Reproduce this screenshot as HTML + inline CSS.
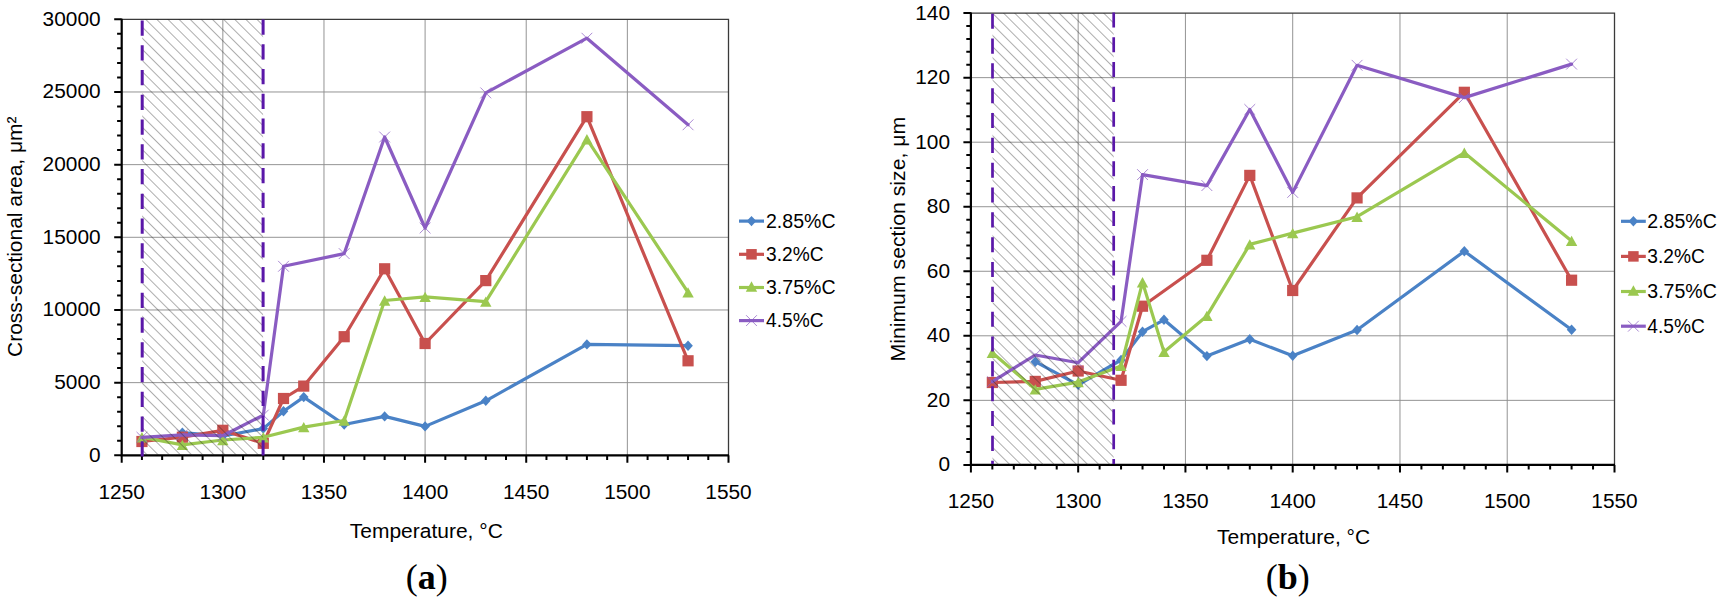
<!DOCTYPE html>
<html lang="en">
<head>
<meta charset="utf-8">
<title>Charts</title>
<style>
html,body{margin:0;padding:0;background:#fff;}
body{width:1720px;height:599px;overflow:hidden;font-family:"Liberation Sans",sans-serif;}
svg{display:block;}
</style>
</head>
<body>
<svg width="1720" height="599" viewBox="0 0 1720 599" font-family="Liberation Sans, sans-serif" fill="#000">
<defs>
<pattern id="hatchA" width="7.87" height="7.87" patternUnits="userSpaceOnUse" patternTransform="translate(127 0) rotate(45)">
<line x1="0" y1="0" x2="7.87" y2="0" stroke="#1e1e1e" stroke-width="0.72"/>
</pattern>
<pattern id="hatchB" width="7.87" height="7.87" patternUnits="userSpaceOnUse" patternTransform="translate(980 0) rotate(45)">
<line x1="0" y1="0" x2="7.87" y2="0" stroke="#1e1e1e" stroke-width="0.72"/>
</pattern>
</defs>
<rect width="1720" height="599" fill="#fff"/>
<g id="chart-a">
<line x1="121.7" x2="728.5" y1="382.63" y2="382.63" stroke="#8e8e8e" stroke-width="0.95"/>
<line x1="121.7" x2="728.5" y1="309.97" y2="309.97" stroke="#8e8e8e" stroke-width="0.95"/>
<line x1="121.7" x2="728.5" y1="237.3" y2="237.3" stroke="#8e8e8e" stroke-width="0.95"/>
<line x1="121.7" x2="728.5" y1="164.63" y2="164.63" stroke="#8e8e8e" stroke-width="0.95"/>
<line x1="121.7" x2="728.5" y1="91.97" y2="91.97" stroke="#8e8e8e" stroke-width="0.95"/>
<line x1="222.83" x2="222.83" y1="19.3" y2="455.3" stroke="#8e8e8e" stroke-width="0.95"/>
<line x1="323.97" x2="323.97" y1="19.3" y2="455.3" stroke="#8e8e8e" stroke-width="0.95"/>
<line x1="425.1" x2="425.1" y1="19.3" y2="455.3" stroke="#8e8e8e" stroke-width="0.95"/>
<line x1="526.23" x2="526.23" y1="19.3" y2="455.3" stroke="#8e8e8e" stroke-width="0.95"/>
<line x1="627.37" x2="627.37" y1="19.3" y2="455.3" stroke="#8e8e8e" stroke-width="0.95"/>
<path d="M121.7 19.3H728.5V455.3" fill="none" stroke="#3a3a3a" stroke-width="1.3"/>
<path d="M121.7 18.8V455.3H729" fill="none" stroke="#000" stroke-width="2.2"/>
<path d="M114.2 455.3H121.7M117.1 440.77H121.7M117.1 426.23H121.7M117.1 411.7H121.7M117.1 397.17H121.7M114.2 382.63H121.7M117.1 368.1H121.7M117.1 353.57H121.7M117.1 339.03H121.7M117.1 324.5H121.7M114.2 309.97H121.7M117.1 295.43H121.7M117.1 280.9H121.7M117.1 266.37H121.7M117.1 251.83H121.7M114.2 237.3H121.7M117.1 222.77H121.7M117.1 208.23H121.7M117.1 193.7H121.7M117.1 179.17H121.7M114.2 164.63H121.7M117.1 150.1H121.7M117.1 135.57H121.7M117.1 121.03H121.7M117.1 106.5H121.7M114.2 91.97H121.7M117.1 77.43H121.7M117.1 62.9H121.7M117.1 48.37H121.7M117.1 33.83H121.7M114.2 19.3H121.7M121.7 455.3V462.8M141.93 455.3V459.9M162.15 455.3V459.9M182.38 455.3V459.9M202.61 455.3V459.9M222.83 455.3V462.8M243.06 455.3V459.9M263.29 455.3V459.9M283.51 455.3V459.9M303.74 455.3V459.9M323.97 455.3V462.8M344.19 455.3V459.9M364.42 455.3V459.9M384.65 455.3V459.9M404.87 455.3V459.9M425.1 455.3V462.8M445.33 455.3V459.9M465.55 455.3V459.9M485.78 455.3V459.9M506.01 455.3V459.9M526.23 455.3V462.8M546.46 455.3V459.9M566.69 455.3V459.9M586.91 455.3V459.9M607.14 455.3V459.9M627.37 455.3V462.8M647.59 455.3V459.9M667.82 455.3V459.9M688.05 455.3V459.9M708.27 455.3V459.9M728.5 455.3V462.8" stroke="#000" stroke-width="2" fill="none"/>
<polyline points="182.38,432.6 222.83,436 263.29,428.6 283.51,411.3 303.74,397.1 344.19,424.5 384.65,416.4 425.1,426.4 485.78,400.8 586.91,344.4 688.05,345.7" fill="none" stroke="#4A82C6" stroke-width="3.2" stroke-linejoin="round" stroke-linecap="round"/>
<path d="M182.38 427.4L187.18 432.6L182.38 437.8L177.58 432.6Z" fill="#4A82C6"/>
<path d="M222.83 430.8L227.63 436L222.83 441.2L218.03 436Z" fill="#4A82C6"/>
<path d="M263.29 423.4L268.09 428.6L263.29 433.8L258.49 428.6Z" fill="#4A82C6"/>
<path d="M283.51 406.1L288.31 411.3L283.51 416.5L278.71 411.3Z" fill="#4A82C6"/>
<path d="M303.74 391.9L308.54 397.1L303.74 402.3L298.94 397.1Z" fill="#4A82C6"/>
<path d="M344.19 419.3L348.99 424.5L344.19 429.7L339.39 424.5Z" fill="#4A82C6"/>
<path d="M384.65 411.2L389.45 416.4L384.65 421.6L379.85 416.4Z" fill="#4A82C6"/>
<path d="M425.1 421.2L429.9 426.4L425.1 431.6L420.3 426.4Z" fill="#4A82C6"/>
<path d="M485.78 395.6L490.58 400.8L485.78 406L480.98 400.8Z" fill="#4A82C6"/>
<path d="M586.91 339.2L591.71 344.4L586.91 349.6L582.11 344.4Z" fill="#4A82C6"/>
<path d="M688.05 340.5L692.85 345.7L688.05 350.9L683.25 345.7Z" fill="#4A82C6"/>
<polyline points="141.93,441.5 182.38,437.2 222.83,430.3 263.29,443.3 283.51,398.5 303.74,386.1 344.19,336.7 384.65,268.8 425.1,343.5 485.78,280.6 586.91,116.7 688.05,360.8" fill="none" stroke="#C8504E" stroke-width="3.2" stroke-linejoin="round" stroke-linecap="round"/>
<rect x="136.33" y="435.9" width="11.2" height="11.2" fill="#C8504E"/>
<rect x="176.78" y="431.6" width="11.2" height="11.2" fill="#C8504E"/>
<rect x="217.23" y="424.7" width="11.2" height="11.2" fill="#C8504E"/>
<rect x="257.69" y="437.7" width="11.2" height="11.2" fill="#C8504E"/>
<rect x="277.91" y="392.9" width="11.2" height="11.2" fill="#C8504E"/>
<rect x="298.14" y="380.5" width="11.2" height="11.2" fill="#C8504E"/>
<rect x="338.59" y="331.1" width="11.2" height="11.2" fill="#C8504E"/>
<rect x="379.05" y="263.2" width="11.2" height="11.2" fill="#C8504E"/>
<rect x="419.5" y="337.9" width="11.2" height="11.2" fill="#C8504E"/>
<rect x="480.18" y="275" width="11.2" height="11.2" fill="#C8504E"/>
<rect x="581.31" y="111.1" width="11.2" height="11.2" fill="#C8504E"/>
<rect x="682.45" y="355.2" width="11.2" height="11.2" fill="#C8504E"/>
<polyline points="141.93,437.2 182.38,444.9 222.83,440 263.29,437.3 303.74,427.1 344.19,420.5 384.65,300.5 425.1,296.9 485.78,301.6 586.91,139.2 688.05,292.4" fill="none" stroke="#9BC850" stroke-width="3.2" stroke-linejoin="round" stroke-linecap="round"/>
<path d="M141.93 432L147.63 442.4L136.23 442.4Z" fill="#9BC850"/>
<path d="M182.38 439.7L188.08 450.1L176.68 450.1Z" fill="#9BC850"/>
<path d="M222.83 434.8L228.53 445.2L217.13 445.2Z" fill="#9BC850"/>
<path d="M263.29 432.1L268.99 442.5L257.59 442.5Z" fill="#9BC850"/>
<path d="M303.74 421.9L309.44 432.3L298.04 432.3Z" fill="#9BC850"/>
<path d="M344.19 415.3L349.89 425.7L338.49 425.7Z" fill="#9BC850"/>
<path d="M384.65 295.3L390.35 305.7L378.95 305.7Z" fill="#9BC850"/>
<path d="M425.1 291.7L430.8 302.1L419.4 302.1Z" fill="#9BC850"/>
<path d="M485.78 296.4L491.48 306.8L480.08 306.8Z" fill="#9BC850"/>
<path d="M586.91 134L592.61 144.4L581.21 144.4Z" fill="#9BC850"/>
<path d="M688.05 287.2L693.75 297.6L682.35 297.6Z" fill="#9BC850"/>
<polyline points="141.93,437.3 182.38,434.9 222.83,435.7 263.29,415.1 283.51,266.3 344.19,253.6 384.65,137 425.1,228 485.78,92.9 586.91,38.2 688.05,124.8" fill="none" stroke="#8A5CC2" stroke-width="3.2" stroke-linejoin="round" stroke-linecap="round"/>
<path d="M136.53 431.9L147.33 442.7M136.53 442.7L147.33 431.9" stroke="#8A5CC2" stroke-width="0.9" stroke-opacity="0.8" fill="none"/>
<path d="M176.98 429.5L187.78 440.3M176.98 440.3L187.78 429.5" stroke="#8A5CC2" stroke-width="0.9" stroke-opacity="0.8" fill="none"/>
<path d="M217.43 430.3L228.23 441.1M217.43 441.1L228.23 430.3" stroke="#8A5CC2" stroke-width="0.9" stroke-opacity="0.8" fill="none"/>
<path d="M257.89 409.7L268.69 420.5M257.89 420.5L268.69 409.7" stroke="#8A5CC2" stroke-width="0.9" stroke-opacity="0.8" fill="none"/>
<path d="M278.11 260.9L288.91 271.7M278.11 271.7L288.91 260.9" stroke="#8A5CC2" stroke-width="0.9" stroke-opacity="0.8" fill="none"/>
<path d="M338.79 248.2L349.59 259M338.79 259L349.59 248.2" stroke="#8A5CC2" stroke-width="0.9" stroke-opacity="0.8" fill="none"/>
<path d="M379.25 131.6L390.05 142.4M379.25 142.4L390.05 131.6" stroke="#8A5CC2" stroke-width="0.9" stroke-opacity="0.8" fill="none"/>
<path d="M419.7 222.6L430.5 233.4M419.7 233.4L430.5 222.6" stroke="#8A5CC2" stroke-width="0.9" stroke-opacity="0.8" fill="none"/>
<path d="M480.38 87.5L491.18 98.3M480.38 98.3L491.18 87.5" stroke="#8A5CC2" stroke-width="0.9" stroke-opacity="0.8" fill="none"/>
<path d="M581.51 32.8L592.31 43.6M581.51 43.6L592.31 32.8" stroke="#8A5CC2" stroke-width="0.9" stroke-opacity="0.8" fill="none"/>
<path d="M682.65 119.4L693.45 130.2M682.65 130.2L693.45 119.4" stroke="#8A5CC2" stroke-width="0.9" stroke-opacity="0.8" fill="none"/>
<rect x="142.2" y="19.3" width="120.9" height="436" fill="url(#hatchA)"/>
<line x1="142.2" x2="142.2" y1="20.4" y2="457" stroke="#5A17A8" stroke-width="3" stroke-dasharray="15.3 9.45"/>
<line x1="263.1" x2="263.1" y1="19.5" y2="457" stroke="#5A17A8" stroke-width="3" stroke-dasharray="15.3 9.45"/>
<text x="100.6" y="461.8" font-size="20.5" text-anchor="end" textLength="11.6" lengthAdjust="spacingAndGlyphs">0</text>
<text x="100.6" y="389.13" font-size="20.5" text-anchor="end" textLength="46.4" lengthAdjust="spacingAndGlyphs">5000</text>
<text x="100.6" y="316.47" font-size="20.5" text-anchor="end" textLength="58" lengthAdjust="spacingAndGlyphs">10000</text>
<text x="100.6" y="243.8" font-size="20.5" text-anchor="end" textLength="58" lengthAdjust="spacingAndGlyphs">15000</text>
<text x="100.6" y="171.13" font-size="20.5" text-anchor="end" textLength="58" lengthAdjust="spacingAndGlyphs">20000</text>
<text x="100.6" y="98.47" font-size="20.5" text-anchor="end" textLength="58" lengthAdjust="spacingAndGlyphs">25000</text>
<text x="100.6" y="25.8" font-size="20.5" text-anchor="end" textLength="58" lengthAdjust="spacingAndGlyphs">30000</text>
<text x="121.7" y="498.7" font-size="20.5" text-anchor="middle" textLength="46.4" lengthAdjust="spacingAndGlyphs">1250</text>
<text x="222.83" y="498.7" font-size="20.5" text-anchor="middle" textLength="46.4" lengthAdjust="spacingAndGlyphs">1300</text>
<text x="323.97" y="498.7" font-size="20.5" text-anchor="middle" textLength="46.4" lengthAdjust="spacingAndGlyphs">1350</text>
<text x="425.1" y="498.7" font-size="20.5" text-anchor="middle" textLength="46.4" lengthAdjust="spacingAndGlyphs">1400</text>
<text x="526.23" y="498.7" font-size="20.5" text-anchor="middle" textLength="46.4" lengthAdjust="spacingAndGlyphs">1450</text>
<text x="627.37" y="498.7" font-size="20.5" text-anchor="middle" textLength="46.4" lengthAdjust="spacingAndGlyphs">1500</text>
<text x="728.5" y="498.7" font-size="20.5" text-anchor="middle" textLength="46.4" lengthAdjust="spacingAndGlyphs">1550</text>
<text x="426.3" y="537.8" font-size="20.5" text-anchor="middle" textLength="153" lengthAdjust="spacingAndGlyphs">Temperature, °C</text>
<text transform="translate(22.3 357) rotate(-90)" font-size="20.5" textLength="240.5" lengthAdjust="spacingAndGlyphs">Cross-sectional area, μm²</text>
<text x="426.8" y="588.9" font-family="Liberation Serif, serif" font-size="36" text-anchor="middle">(<tspan font-weight="bold">a</tspan>)</text>
<line x1="739" x2="764" y1="221.1" y2="221.1" stroke="#4A82C6" stroke-width="3.2"/>
<path d="M751.5 215.9L756.3 221.1L751.5 226.3L746.7 221.1Z" fill="#4A82C6"/>
<text x="766" y="227.6" font-size="20.5" text-anchor="start" textLength="69.5" lengthAdjust="spacingAndGlyphs">2.85%C</text>
<line x1="739" x2="764" y1="254.3" y2="254.3" stroke="#C8504E" stroke-width="3.2"/>
<rect x="746.25" y="249.05" width="10.5" height="10.5" fill="#C8504E"/>
<text x="766" y="260.8" font-size="20.5" text-anchor="start" textLength="57.5" lengthAdjust="spacingAndGlyphs">3.2%C</text>
<line x1="739" x2="764" y1="287.5" y2="287.5" stroke="#9BC850" stroke-width="3.2"/>
<path d="M751.5 281.3L757.2 291.7L745.8 291.7Z" fill="#9BC850"/>
<text x="766" y="294" font-size="20.5" text-anchor="start" textLength="69.5" lengthAdjust="spacingAndGlyphs">3.75%C</text>
<line x1="739" x2="764" y1="320.6" y2="320.6" stroke="#8A5CC2" stroke-width="3.2"/>
<path d="M746.1 315.2L756.9 326M746.1 326L756.9 315.2" stroke="#8A5CC2" stroke-width="0.9" stroke-opacity="0.8" fill="none"/>
<text x="766" y="327.1" font-size="20.5" text-anchor="start" textLength="57.5" lengthAdjust="spacingAndGlyphs">4.5%C</text>
</g>
<g id="chart-b">
<line x1="970.9" x2="1614.5" y1="400.36" y2="400.36" stroke="#8e8e8e" stroke-width="0.95"/>
<line x1="970.9" x2="1614.5" y1="335.81" y2="335.81" stroke="#8e8e8e" stroke-width="0.95"/>
<line x1="970.9" x2="1614.5" y1="271.27" y2="271.27" stroke="#8e8e8e" stroke-width="0.95"/>
<line x1="970.9" x2="1614.5" y1="206.73" y2="206.73" stroke="#8e8e8e" stroke-width="0.95"/>
<line x1="970.9" x2="1614.5" y1="142.19" y2="142.19" stroke="#8e8e8e" stroke-width="0.95"/>
<line x1="970.9" x2="1614.5" y1="77.64" y2="77.64" stroke="#8e8e8e" stroke-width="0.95"/>
<line x1="1078.17" x2="1078.17" y1="13.1" y2="464.9" stroke="#8e8e8e" stroke-width="0.95"/>
<line x1="1185.43" x2="1185.43" y1="13.1" y2="464.9" stroke="#8e8e8e" stroke-width="0.95"/>
<line x1="1292.7" x2="1292.7" y1="13.1" y2="464.9" stroke="#8e8e8e" stroke-width="0.95"/>
<line x1="1399.97" x2="1399.97" y1="13.1" y2="464.9" stroke="#8e8e8e" stroke-width="0.95"/>
<line x1="1507.23" x2="1507.23" y1="13.1" y2="464.9" stroke="#8e8e8e" stroke-width="0.95"/>
<path d="M970.9 13.1H1614.5V464.9" fill="none" stroke="#3a3a3a" stroke-width="1.3"/>
<path d="M970.9 12.6V464.9H1615" fill="none" stroke="#000" stroke-width="2.2"/>
<path d="M963.4 464.9H970.9M966.3 451.99H970.9M966.3 439.08H970.9M966.3 426.17H970.9M966.3 413.27H970.9M963.4 400.36H970.9M966.3 387.45H970.9M966.3 374.54H970.9M966.3 361.63H970.9M966.3 348.72H970.9M963.4 335.81H970.9M966.3 322.91H970.9M966.3 310H970.9M966.3 297.09H970.9M966.3 284.18H970.9M963.4 271.27H970.9M966.3 258.36H970.9M966.3 245.45H970.9M966.3 232.55H970.9M966.3 219.64H970.9M963.4 206.73H970.9M966.3 193.82H970.9M966.3 180.91H970.9M966.3 168H970.9M966.3 155.09H970.9M963.4 142.19H970.9M966.3 129.28H970.9M966.3 116.37H970.9M966.3 103.46H970.9M966.3 90.55H970.9M963.4 77.64H970.9M966.3 64.73H970.9M966.3 51.83H970.9M966.3 38.92H970.9M966.3 26.01H970.9M963.4 13.1H970.9M970.9 464.9V472.4M992.35 464.9V469.5M1013.81 464.9V469.5M1035.26 464.9V469.5M1056.71 464.9V469.5M1078.17 464.9V472.4M1099.62 464.9V469.5M1121.07 464.9V469.5M1142.53 464.9V469.5M1163.98 464.9V469.5M1185.43 464.9V472.4M1206.89 464.9V469.5M1228.34 464.9V469.5M1249.79 464.9V469.5M1271.25 464.9V469.5M1292.7 464.9V472.4M1314.15 464.9V469.5M1335.61 464.9V469.5M1357.06 464.9V469.5M1378.51 464.9V469.5M1399.97 464.9V472.4M1421.42 464.9V469.5M1442.87 464.9V469.5M1464.33 464.9V469.5M1485.78 464.9V469.5M1507.23 464.9V472.4M1528.69 464.9V469.5M1550.14 464.9V469.5M1571.59 464.9V469.5M1593.05 464.9V469.5M1614.5 464.9V472.4" stroke="#000" stroke-width="2" fill="none"/>
<polyline points="1035.26,361.7 1078.17,384.8 1121.07,360 1142.53,331.7 1163.98,319.8 1206.89,356.1 1249.79,339.3 1292.7,355.8 1357.06,330 1464.33,251.2 1571.59,329.8" fill="none" stroke="#4A82C6" stroke-width="3.2" stroke-linejoin="round" stroke-linecap="round"/>
<path d="M1035.26 356.5L1040.06 361.7L1035.26 366.9L1030.46 361.7Z" fill="#4A82C6"/>
<path d="M1078.17 379.6L1082.97 384.8L1078.17 390L1073.37 384.8Z" fill="#4A82C6"/>
<path d="M1121.07 354.8L1125.87 360L1121.07 365.2L1116.27 360Z" fill="#4A82C6"/>
<path d="M1142.53 326.5L1147.33 331.7L1142.53 336.9L1137.73 331.7Z" fill="#4A82C6"/>
<path d="M1163.98 314.6L1168.78 319.8L1163.98 325L1159.18 319.8Z" fill="#4A82C6"/>
<path d="M1206.89 350.9L1211.69 356.1L1206.89 361.3L1202.09 356.1Z" fill="#4A82C6"/>
<path d="M1249.79 334.1L1254.59 339.3L1249.79 344.5L1244.99 339.3Z" fill="#4A82C6"/>
<path d="M1292.7 350.6L1297.5 355.8L1292.7 361L1287.9 355.8Z" fill="#4A82C6"/>
<path d="M1357.06 324.8L1361.86 330L1357.06 335.2L1352.26 330Z" fill="#4A82C6"/>
<path d="M1464.33 246L1469.13 251.2L1464.33 256.4L1459.53 251.2Z" fill="#4A82C6"/>
<path d="M1571.59 324.6L1576.39 329.8L1571.59 335L1566.79 329.8Z" fill="#4A82C6"/>
<polyline points="992.35,382.5 1035.26,381.4 1078.17,371 1121.07,380.3 1142.53,306.2 1206.89,260.3 1249.79,175.4 1292.7,290.5 1357.06,197.9 1464.33,92.3 1571.59,280.2" fill="none" stroke="#C8504E" stroke-width="3.2" stroke-linejoin="round" stroke-linecap="round"/>
<rect x="986.75" y="376.9" width="11.2" height="11.2" fill="#C8504E"/>
<rect x="1029.66" y="375.8" width="11.2" height="11.2" fill="#C8504E"/>
<rect x="1072.57" y="365.4" width="11.2" height="11.2" fill="#C8504E"/>
<rect x="1115.47" y="374.7" width="11.2" height="11.2" fill="#C8504E"/>
<rect x="1136.93" y="300.6" width="11.2" height="11.2" fill="#C8504E"/>
<rect x="1201.29" y="254.7" width="11.2" height="11.2" fill="#C8504E"/>
<rect x="1244.19" y="169.8" width="11.2" height="11.2" fill="#C8504E"/>
<rect x="1287.1" y="284.9" width="11.2" height="11.2" fill="#C8504E"/>
<rect x="1351.46" y="192.3" width="11.2" height="11.2" fill="#C8504E"/>
<rect x="1458.73" y="86.7" width="11.2" height="11.2" fill="#C8504E"/>
<rect x="1565.99" y="274.6" width="11.2" height="11.2" fill="#C8504E"/>
<polyline points="992.35,352.7 1035.26,389.4 1078.17,382.1 1121.07,365.9 1142.53,282.3 1163.98,351.9 1206.89,315.9 1249.79,244.4 1292.7,233.1 1357.06,216.7 1464.33,152.8 1571.59,240.9" fill="none" stroke="#9BC850" stroke-width="3.2" stroke-linejoin="round" stroke-linecap="round"/>
<path d="M992.35 347.5L998.05 357.9L986.65 357.9Z" fill="#9BC850"/>
<path d="M1035.26 384.2L1040.96 394.6L1029.56 394.6Z" fill="#9BC850"/>
<path d="M1078.17 376.9L1083.87 387.3L1072.47 387.3Z" fill="#9BC850"/>
<path d="M1121.07 360.7L1126.77 371.1L1115.37 371.1Z" fill="#9BC850"/>
<path d="M1142.53 277.1L1148.23 287.5L1136.83 287.5Z" fill="#9BC850"/>
<path d="M1163.98 346.7L1169.68 357.1L1158.28 357.1Z" fill="#9BC850"/>
<path d="M1206.89 310.7L1212.59 321.1L1201.19 321.1Z" fill="#9BC850"/>
<path d="M1249.79 239.2L1255.49 249.6L1244.09 249.6Z" fill="#9BC850"/>
<path d="M1292.7 227.9L1298.4 238.3L1287 238.3Z" fill="#9BC850"/>
<path d="M1357.06 211.5L1362.76 221.9L1351.36 221.9Z" fill="#9BC850"/>
<path d="M1464.33 147.6L1470.03 158L1458.63 158Z" fill="#9BC850"/>
<path d="M1571.59 235.7L1577.29 246.1L1565.89 246.1Z" fill="#9BC850"/>
<polyline points="992.35,381.7 1035.26,355 1078.17,362.7 1121.07,321.4 1142.53,174.6 1206.89,185.6 1249.79,109.5 1292.7,192.4 1357.06,65.3 1464.33,97.6 1571.59,64.1" fill="none" stroke="#8A5CC2" stroke-width="3.2" stroke-linejoin="round" stroke-linecap="round"/>
<path d="M986.95 376.3L997.75 387.1M986.95 387.1L997.75 376.3" stroke="#8A5CC2" stroke-width="0.9" stroke-opacity="0.8" fill="none"/>
<path d="M1029.86 349.6L1040.66 360.4M1029.86 360.4L1040.66 349.6" stroke="#8A5CC2" stroke-width="0.9" stroke-opacity="0.8" fill="none"/>
<path d="M1072.77 357.3L1083.57 368.1M1072.77 368.1L1083.57 357.3" stroke="#8A5CC2" stroke-width="0.9" stroke-opacity="0.8" fill="none"/>
<path d="M1115.67 316L1126.47 326.8M1115.67 326.8L1126.47 316" stroke="#8A5CC2" stroke-width="0.9" stroke-opacity="0.8" fill="none"/>
<path d="M1137.13 169.2L1147.93 180M1137.13 180L1147.93 169.2" stroke="#8A5CC2" stroke-width="0.9" stroke-opacity="0.8" fill="none"/>
<path d="M1201.49 180.2L1212.29 191M1201.49 191L1212.29 180.2" stroke="#8A5CC2" stroke-width="0.9" stroke-opacity="0.8" fill="none"/>
<path d="M1244.39 104.1L1255.19 114.9M1244.39 114.9L1255.19 104.1" stroke="#8A5CC2" stroke-width="0.9" stroke-opacity="0.8" fill="none"/>
<path d="M1287.3 187L1298.1 197.8M1287.3 197.8L1298.1 187" stroke="#8A5CC2" stroke-width="0.9" stroke-opacity="0.8" fill="none"/>
<path d="M1351.66 59.9L1362.46 70.7M1351.66 70.7L1362.46 59.9" stroke="#8A5CC2" stroke-width="0.9" stroke-opacity="0.8" fill="none"/>
<path d="M1458.93 92.2L1469.73 103M1458.93 103L1469.73 92.2" stroke="#8A5CC2" stroke-width="0.9" stroke-opacity="0.8" fill="none"/>
<path d="M1566.19 58.7L1576.99 69.5M1566.19 69.5L1576.99 58.7" stroke="#8A5CC2" stroke-width="0.9" stroke-opacity="0.8" fill="none"/>
<rect x="992.5" y="13.1" width="121.2" height="451.8" fill="url(#hatchB)"/>
<line x1="992.5" x2="992.5" y1="13.7" y2="464" stroke="#5A17A8" stroke-width="2.7" stroke-dasharray="15.1 9.73"/>
<line x1="1113.7" x2="1113.7" y1="12.4" y2="464" stroke="#5A17A8" stroke-width="2.7" stroke-dasharray="15.1 9.71"/>
<text x="950" y="471.4" font-size="20.5" text-anchor="end" textLength="11.6" lengthAdjust="spacingAndGlyphs">0</text>
<text x="950" y="406.86" font-size="20.5" text-anchor="end" textLength="23.2" lengthAdjust="spacingAndGlyphs">20</text>
<text x="950" y="342.31" font-size="20.5" text-anchor="end" textLength="23.2" lengthAdjust="spacingAndGlyphs">40</text>
<text x="950" y="277.77" font-size="20.5" text-anchor="end" textLength="23.2" lengthAdjust="spacingAndGlyphs">60</text>
<text x="950" y="213.23" font-size="20.5" text-anchor="end" textLength="23.2" lengthAdjust="spacingAndGlyphs">80</text>
<text x="950" y="148.69" font-size="20.5" text-anchor="end" textLength="34.8" lengthAdjust="spacingAndGlyphs">100</text>
<text x="950" y="84.14" font-size="20.5" text-anchor="end" textLength="34.8" lengthAdjust="spacingAndGlyphs">120</text>
<text x="950" y="19.6" font-size="20.5" text-anchor="end" textLength="34.8" lengthAdjust="spacingAndGlyphs">140</text>
<text x="970.9" y="508.2" font-size="20.5" text-anchor="middle" textLength="46.4" lengthAdjust="spacingAndGlyphs">1250</text>
<text x="1078.17" y="508.2" font-size="20.5" text-anchor="middle" textLength="46.4" lengthAdjust="spacingAndGlyphs">1300</text>
<text x="1185.43" y="508.2" font-size="20.5" text-anchor="middle" textLength="46.4" lengthAdjust="spacingAndGlyphs">1350</text>
<text x="1292.7" y="508.2" font-size="20.5" text-anchor="middle" textLength="46.4" lengthAdjust="spacingAndGlyphs">1400</text>
<text x="1399.97" y="508.2" font-size="20.5" text-anchor="middle" textLength="46.4" lengthAdjust="spacingAndGlyphs">1450</text>
<text x="1507.23" y="508.2" font-size="20.5" text-anchor="middle" textLength="46.4" lengthAdjust="spacingAndGlyphs">1500</text>
<text x="1614.5" y="508.2" font-size="20.5" text-anchor="middle" textLength="46.4" lengthAdjust="spacingAndGlyphs">1550</text>
<text x="1293.6" y="544.3" font-size="20.5" text-anchor="middle" textLength="153" lengthAdjust="spacingAndGlyphs">Temperature, °C</text>
<text transform="translate(905 361.5) rotate(-90)" font-size="20.5" textLength="244.7" lengthAdjust="spacingAndGlyphs">Minimum section size, μm</text>
<text x="1287.8" y="589.3" font-family="Liberation Serif, serif" font-size="36" text-anchor="middle">(<tspan font-weight="bold">b</tspan>)</text>
<line x1="1621" x2="1645.8" y1="221.3" y2="221.3" stroke="#4A82C6" stroke-width="3.2"/>
<path d="M1633.4 216.1L1638.2 221.3L1633.4 226.5L1628.6 221.3Z" fill="#4A82C6"/>
<text x="1647.3" y="227.8" font-size="20.5" text-anchor="start" textLength="69.5" lengthAdjust="spacingAndGlyphs">2.85%C</text>
<line x1="1621" x2="1645.8" y1="256.4" y2="256.4" stroke="#C8504E" stroke-width="3.2"/>
<rect x="1628.15" y="251.15" width="10.5" height="10.5" fill="#C8504E"/>
<text x="1647.3" y="262.9" font-size="20.5" text-anchor="start" textLength="57.5" lengthAdjust="spacingAndGlyphs">3.2%C</text>
<line x1="1621" x2="1645.8" y1="291.5" y2="291.5" stroke="#9BC850" stroke-width="3.2"/>
<path d="M1633.4 285.3L1639.1 295.7L1627.7 295.7Z" fill="#9BC850"/>
<text x="1647.3" y="298" font-size="20.5" text-anchor="start" textLength="69.5" lengthAdjust="spacingAndGlyphs">3.75%C</text>
<line x1="1621" x2="1645.8" y1="326.2" y2="326.2" stroke="#8A5CC2" stroke-width="3.2"/>
<path d="M1628 320.8L1638.8 331.6M1628 331.6L1638.8 320.8" stroke="#8A5CC2" stroke-width="0.9" stroke-opacity="0.8" fill="none"/>
<text x="1647.3" y="332.7" font-size="20.5" text-anchor="start" textLength="57.5" lengthAdjust="spacingAndGlyphs">4.5%C</text>
</g>
</svg>
</body>
</html>
